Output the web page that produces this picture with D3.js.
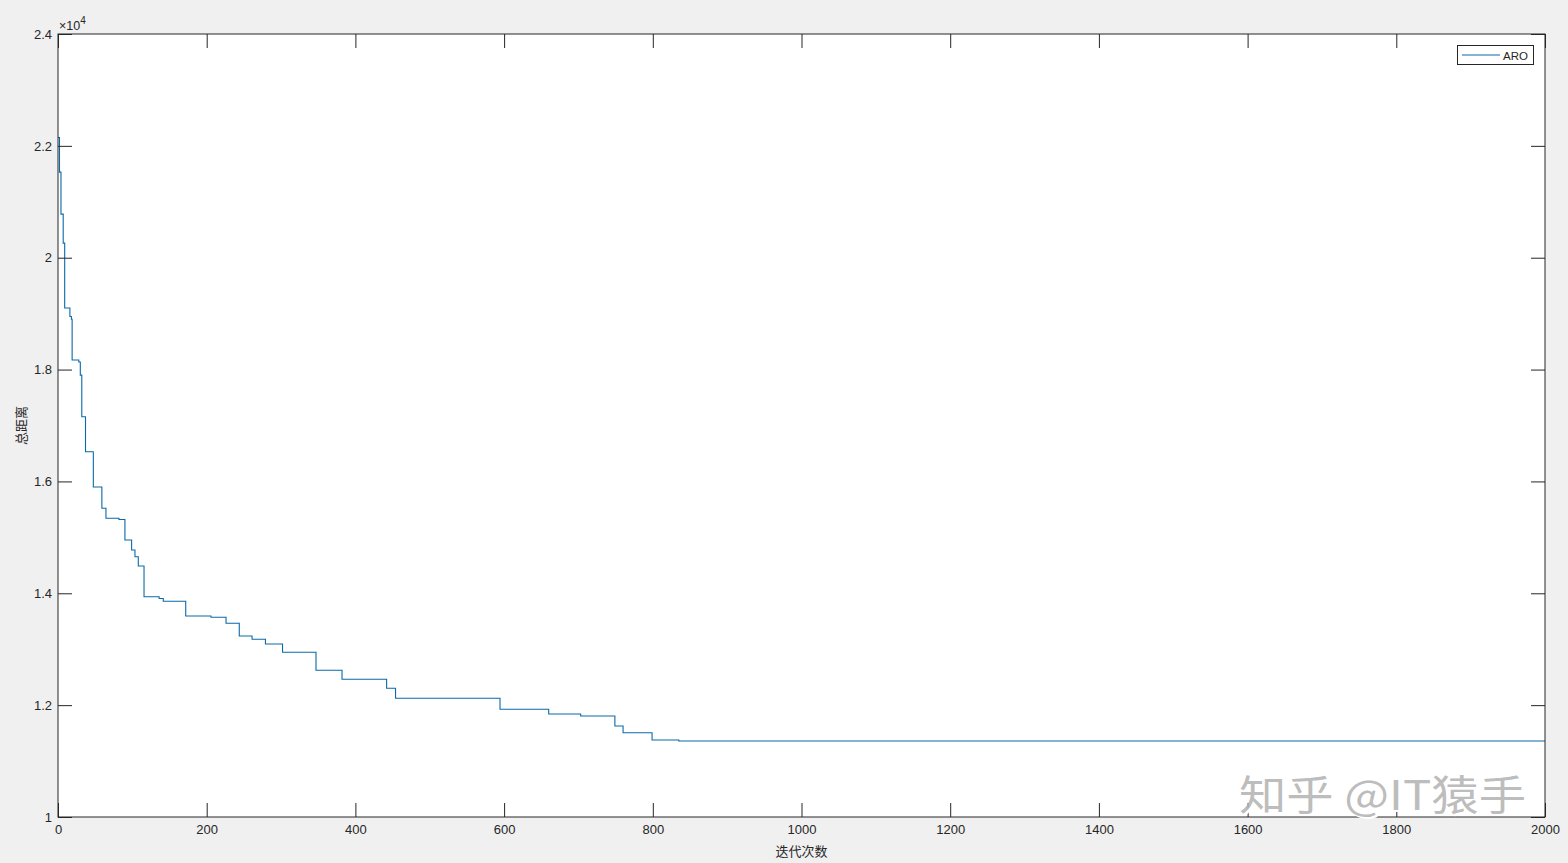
<!DOCTYPE html>
<html><head><meta charset="utf-8">
<script src="https://cdn.jsdelivr.net/npm/d3@7"></script>
<style>
html,body{margin:0;padding:0;background:#f0f0f0;}
svg{display:block;}
</style></head>
<body>
<svg id="c" width="1568" height="863"></svg>
<script>
// Data: iteration where the best value changes, and the new best value
const iterations = [0, 2, 4, 7, 9, 16, 18, 19, 28, 30, 32, 37, 47.5, 59, 64.5, 82, 90, 99, 103.5, 108, 115.7, 136, 141.6, 171.8, 205.8, 226, 243.8, 261, 279, 302, 347, 382, 442, 454, 594.5, 660, 703, 749, 760, 799, 835, 2000];
const bestValues = [22150, 21530, 20780, 20260, 19100, 18950, 18900, 18170, 18135, 17900, 17157, 16532, 15900, 15520, 15341, 15320, 14953, 14774, 14654, 14488, 13939, 13907, 13858, 13594, 13571, 13463, 13236, 13177, 13093, 12945, 12623, 12462, 12301, 12122, 11926, 11842, 11806, 11627, 11507, 11377, 11359, 11359];
const xTicks = [0, 200, 400, 600, 800, 1000, 1200, 1400, 1600, 1800, 2000];
const yTicks = [10000, 12000, 14000, 16000, 18000, 20000, 22000, 24000];
const seriesName = "ARO";
const xLabel = "迭代次数";
const yLabel = "总距离";

const svg = d3.select("#c");
const L = 58, R = 1545, T = 34, B = 817;
const x = d3.scaleLinear().domain([0, 2000]).range([L, R]);
const y = d3.scaleLinear().domain([10000, 24000]).range([B, T]);
const axisColor = "#262626";
const font = "'Liberation Sans', Arial, Helvetica, sans-serif";

svg.append("rect").attr("x", L).attr("y", T).attr("width", R - L).attr("height", B - T).attr("fill", "#fff");

const data = iterations.map((d, i) => ({it: d, v: bestValues[i]}));
svg.append("path").datum(data)
  .attr("fill", "none").attr("stroke", "#0a6aa8").attr("stroke-width", 1.1)
  .attr("d", d3.line().x(d => x(d.it)).y(d => y(d.v)).curve(d3.curveStepAfter));

const tl = 14;
function styleAxis(g) {
  g.select(".domain").remove();
  g.selectAll(".tick line").attr("stroke", axisColor);
  g.selectAll(".tick text").attr("fill", axisColor).attr("font-family", font).attr("font-size", 13);
}
// bottom
svg.append("g").attr("transform", `translate(0,${B})`)
  .call(d3.axisBottom(x).tickValues(xTicks).tickFormat(d3.format("d")).tickSizeInner(-tl).tickSizeOuter(0).tickPadding(8))
  .call(styleAxis);
// top
svg.append("g").attr("transform", `translate(0,${T})`)
  .call(d3.axisTop(x).tickValues(xTicks).tickFormat("").tickSizeInner(-tl).tickSizeOuter(0))
  .call(styleAxis);
// left
svg.append("g").attr("transform", `translate(${L},0)`)
  .call(d3.axisLeft(y).tickValues(yTicks).tickFormat(d => d3.format("")(+(d / 10000).toFixed(1))).tickSizeInner(-tl).tickSizeOuter(0).tickPadding(6))
  .call(styleAxis);
// right
svg.append("g").attr("transform", `translate(${R},0)`)
  .call(d3.axisRight(y).tickValues(yTicks).tickFormat("").tickSizeInner(-tl).tickSizeOuter(0))
  .call(styleAxis);

// box
svg.append("rect").attr("x", L).attr("y", T).attr("width", R - L).attr("height", B - T)
  .attr("fill", "none").attr("stroke", axisColor).attr("stroke-width", 1);

// exponent
const ex = svg.append("text").attr("x", L + 1).attr("y", 30).attr("fill", axisColor)
  .attr("font-family", font).attr("font-size", 12.5);
ex.append("tspan").text("×10");
ex.append("tspan").attr("dy", -6).attr("font-size", 10).text("4");

// axis labels
svg.append("text").attr("x", (L + R) / 2).attr("y", 856).attr("text-anchor", "middle")
  .attr("fill", axisColor).attr("font-family", "'Noto Sans CJK SC', sans-serif").attr("font-size", 13).text(xLabel);
svg.append("text").attr("transform", `translate(26,${(T + B) / 2}) rotate(-90)`).attr("text-anchor", "middle")
  .attr("fill", axisColor).attr("font-family", "'Noto Sans CJK SC', sans-serif").attr("font-size", 13).text(yLabel);

// legend
svg.append("rect").attr("x", 1457.5).attr("y", 45.5).attr("width", 76).attr("height", 19)
  .attr("fill", "#fff").attr("stroke", axisColor).attr("stroke-width", 1);
svg.append("line").attr("x1", 1462).attr("x2", 1500).attr("y1", 55).attr("y2", 55)
  .attr("stroke", "#0a6aa8").attr("stroke-width", 1.1);
svg.append("text").attr("x", 1503).attr("y", 59.5).attr("fill", axisColor)
  .attr("font-family", font).attr("font-size", 11.5).text(seriesName);

// watermark
const wm = "知乎 @IT猿手";
svg.append("text").attr("x", 1241).attr("y", 812).attr("fill", "#ffffff")
  .attr("font-family", "'Noto Sans CJK SC', sans-serif").attr("font-size", 41)
  .attr("textLength", 287).attr("lengthAdjust", "spacingAndGlyphs").text(wm);
svg.append("text").attr("x", 1239).attr("y", 810).attr("fill", "#b4b4b4").attr("fill-opacity", 0.9)
  .attr("font-family", "'Noto Sans CJK SC', sans-serif").attr("font-size", 41)
  .attr("textLength", 287).attr("lengthAdjust", "spacingAndGlyphs").text(wm);
</script>
</body></html>
